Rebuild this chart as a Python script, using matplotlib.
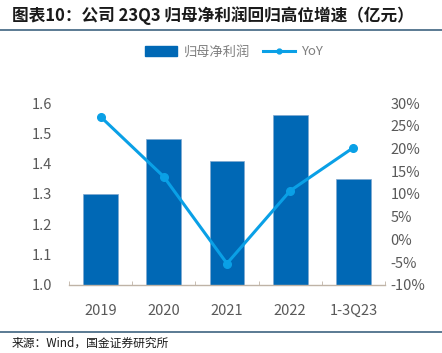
import numpy as np
import matplotlib
matplotlib.use("Agg")
import matplotlib.pyplot as plt
from matplotlib.lines import Line2D
from matplotlib.patches import Patch

plt.rcParams['font.family'] = ['Noto Sans CJK SC', 'DejaVu Sans']

categories = ["2019", "2020", "2021", "2022", "1-3Q23"]
profit = [1.30, 1.48, 1.41, 1.56, 1.35]          # 亿元
yoy = [27.0, 13.8, -5.3, 10.7, 20.2]              # %

BAR_COLOR = "#0068B5"
LINE_COLOR = "#0AA0E6"
TICK_COLOR = "#595959"
RULE_COLOR = "#3E6480"

fig = plt.figure(figsize=(4.42, 3.53), dpi=100)
ax = fig.add_axes([0.156, 0.193, 0.715, 0.515])
ax2 = ax.twinx()

x = np.arange(len(categories))
ax.bar(x, profit, width=0.55, color=BAR_COLOR, edgecolor="#7FA8D0", linewidth=0.5,
       bottom=0, zorder=2)
ax.set_ylim(1.0, 1.6)
ax.set_xlim(-0.5, len(categories) - 0.5)
ax.set_yticks(np.arange(1.0, 1.61, 0.1))
ax.set_yticklabels([f"{v:.1f}" for v in np.arange(1.0, 1.61, 0.1)])

ax2.plot(x, yoy, color=LINE_COLOR, lw=2.2, marker="o", ms=5.5, zorder=3)
ax2.set_ylim(-10, 30)
ax2.set_yticks(np.arange(-10, 31, 5))
ax2.set_yticklabels([f"{v}%" for v in range(-10, 31, 5)])

ax.set_xticks(x)
ax.set_xticklabels(categories)
ax.set_xticks(np.arange(-0.5, len(categories), 1), minor=True)
ax.tick_params(axis="x", which="major", length=0, pad=14, labelsize=10.5, colors=TICK_COLOR)
ax.tick_params(axis="x", which="minor", length=3, direction="in", color="#BFB3A6")
ax.tick_params(axis="y", length=0, pad=12, labelsize=10.5, colors=TICK_COLOR)
ax2.tick_params(axis="y", length=0, pad=4, labelsize=10.5, colors=TICK_COLOR)

for a in (ax, ax2):
    for s in ("top", "left", "right"):
        a.spines[s].set_visible(False)
ax2.spines["bottom"].set_visible(False)
ax.spines["bottom"].set_color("#BFB3A6")
ax.spines["bottom"].set_linewidth(1.0)
ax.set_zorder(1)
ax2.set_zorder(2)
ax2.patch.set_visible(False)

handles = [Patch(facecolor=BAR_COLOR, edgecolor=BAR_COLOR),
           Line2D([0], [0], color=LINE_COLOR, lw=2.2, marker="o", ms=3.5)]
fig.legend(handles, ["归母净利润", "YoY"], loc="center", bbox_to_anchor=(0.53, 0.853),
           ncol=2, frameon=False, fontsize=9.5, handlelength=2.4, handleheight=0.8,
           columnspacing=1.0, handletextpad=0.5, labelcolor="#7F7F7F")

fig.text(0.027, 0.955, "图表10：公司 23Q3 归母净利润回归高位增速（亿元）", fontsize=12,
         fontweight="bold", color="#1A1A1A", ha="left", va="center", style="italic")
fig.add_artist(Line2D([0, 1], [0.915, 0.915], color=RULE_COLOR, lw=1.2,
                      transform=fig.transFigure))
fig.add_artist(Line2D([0, 1], [0.06, 0.06], color=RULE_COLOR, lw=1.2,
                      transform=fig.transFigure))
fig.text(0.027, 0.028, "来源：Wind，国金证券研究所", fontsize=8.5, color="#1A1A1A",
         ha="left", va="center")

fig.savefig("out.png", dpi=100)
